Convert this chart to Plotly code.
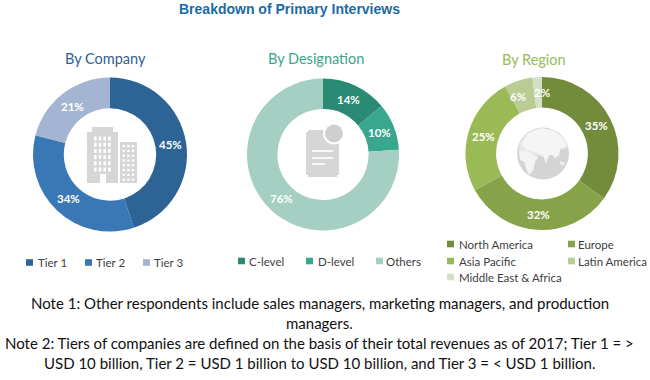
import math
import plotly.graph_objects as go

W, H = 650, 380

company_labels = ["Tier 1", "Tier 2", "Tier 3"]
company_values = [45, 34, 21]
company_colors = ["#2e6396", "#3a78b5", "#a3b5d3"]

designation_labels = ["C-level", "D-level", "Others"]
designation_values = [14, 10, 76]
designation_colors = ["#2a8a74", "#39a78e", "#a6cfc3"]

region_labels = ["North America", "Europe", "Asia Pacific", "Latin America", "Middle East & Africa"]
region_values = [35, 32, 25, 6, 2]
region_colors = ["#738c3b", "#86a34a", "#9aba56", "#b8cc94", "#d5dfc4"]

title_text = "Breakdown of Primary Interviews"
notes = [
    "Note 1: Other respondents include sales managers, marketing managers, and production",
    "managers.",
    "Note 2: Tiers of companies are defined on the basis of their total revenues as of 2017; Tier 1 = >",
    "USD 10 billion, Tier 2 = USD 1 billion to USD 10 billion, and Tier 3 = < USD 1 billion.",
]
note_y = [302.5, 323, 343, 363]

BODY = "Lato, 'Open Sans', sans-serif"
GREY = "#d6d6d6"


def fx(x):
    return x / W


def fy(y):
    return 1 - y / H


fig = go.Figure()
shapes = []
annotations = []


def text(t, x, y, size, color, family=BODY, anchor="center", weight="normal"):
    annotations.append(dict(text=t, x=fx(x), y=fy(y), xref="paper", yref="paper", showarrow=False,
                            xanchor=anchor, yanchor="middle",
                            font=dict(family=family, size=size, color=color, weight=weight)))


def rect(x0, y0, x1, y1, color=GREY):
    shapes.append(dict(type="rect", xref="paper", yref="paper", x0=fx(x0), x1=fx(x1),
                       y0=fy(y1), y1=fy(y0), fillcolor=color, line=dict(width=0), layer="above"))


def circle(cx, cy, r, color):
    shapes.append(dict(type="circle", xref="paper", yref="paper", x0=fx(cx - r), x1=fx(cx + r),
                       y0=fy(cy + r), y1=fy(cy - r), fillcolor=color, line=dict(width=0), layer="above"))


def poly(points, color):
    d = "M " + " L ".join(f"{fx(x):.4f},{fy(y):.4f}" for x, y in points) + " Z"
    shapes.append(dict(type="path", xref="paper", yref="paper", path=d, fillcolor=color,
                       line=dict(width=0), layer="above"))


def donut(labels, values, colors, cx, cy, r, nudges=None):
    fig.add_trace(go.Pie(
        labels=labels, values=values,
        domain=dict(x=[fx(cx - r), fx(cx + r)], y=[fy(cy + r), fy(cy - r)]),
        hole=0.6, sort=False, direction="clockwise", rotation=0,
        marker=dict(colors=colors, line=dict(width=0)),
        textinfo="none", showlegend=False,
    ))
    total = sum(values)
    cum = 0
    for i, v in enumerate(values):
        a = 2 * math.pi * (cum + v / 2) / total
        cum += v
        dx = (nudges or {}).get(i, (0, 0))
        text(f"{v}%", cx + 61 * math.sin(a) + dx[0], cy - 61 * math.cos(a) + dx[1], 11.5, "white", weight="bold")


def legend(labels, colors, swatch_x, text_x, rows):
    for lab, col, sx, tx, yy in zip(labels, colors, swatch_x, text_x, rows):
        rect(sx, yy - 3.3, sx + 7, yy + 3.3, col)
        text(lab, tx - 1.5, yy, 11.5, "#404040", anchor="left")


donut(company_labels, company_values, company_colors, 110, 154.5, 77)
donut(designation_labels, designation_values, designation_colors, 323, 154.5, 76)
donut(region_labels, region_values, region_colors, 542, 153.5, 76.5, nudges={3: (-5, 1.5), 4: (4, 0)})

legend(company_labels, company_colors, [26, 85, 143], [37, 95, 153], [262.5] * 3)
legend(designation_labels, designation_colors, [238, 306, 376], [248, 317, 385], [261] * 3)
legend(region_labels, region_colors, [447, 568, 447, 568, 447], [458, 577, 458, 577, 458],
       [244, 244, 261, 261, 277])

# building icon
rect(87, 132, 118, 183)
rect(92, 127, 113, 132)
rect(120, 142, 137, 183)
for row in range(6):
    for col in range(4):
        rect(94 + col * 4.7, 136.5 + row * 6.2, 96.6 + col * 4.7, 140.5 + row * 6.2, "white")
for row in range(8):
    for col in range(3):
        rect(122.5 + col * 4.6, 145 + row * 4.8, 125 + col * 4.6, 147.2 + row * 4.8, "white")
rect(100, 174, 106, 183, "white")

# document icon
rect(306, 132, 339, 175)
rect(308, 130, 337, 177)
for yy, x1 in ((151, 333), (158, 333), (164, 325)):
    rect(312, yy - 0.8, x1, yy + 0.8, "white")
circle(334, 133.5, 10.8, "white")
circle(334, 133.5, 9, "#cfcfcf")

# globe icon
circle(543, 153.5, 26, "#d4d4d4")


def gz(points):
    return [(510 + x / 3, 120 + y / 3) for x, y in points]


poly(gz([(26, 105), (28, 72), (45, 46), (70, 30), (100, 25), (135, 32), (160, 52), (174, 82), (150, 90),
         (100, 110), (60, 100)]), "#e9e9e9")
poly(gz([(35, 75), (55, 40), (90, 25), (130, 30), (165, 60), (170, 80), (150, 85), (148, 105), (135, 115),
         (128, 105), (118, 105), (108, 130), (98, 105), (85, 100), (70, 95), (50, 90)]), "#f5f5f5")
poly(gz([(28, 95), (45, 92), (65, 100), (85, 112), (75, 125), (70, 150), (58, 165), (50, 150), (42, 125), (30, 120)]), "#f3f3f3")
poly(gz([(148, 122), (165, 128), (160, 138), (150, 133)]), "#ececec")

text(title_text, 289.5, 9, 14, "#1c6aa6", family="Liberation Sans", weight="bold")
text("By Company", 106, 58, 14.5, "#2f5f8e")
text("By Designation", 316, 58, 14.5, "#3aa58d")
text("By Region", 534, 59, 14.5, "#9aba56")
for t, yy in zip(notes, note_y):
    text(t, 319.5, yy, 15, "#111111")

fig.update_layout(
    width=W, height=H, margin=dict(l=0, r=0, t=0, b=0), autosize=False,
    paper_bgcolor="white", plot_bgcolor="white", shapes=shapes, annotations=annotations,
    font=dict(family=BODY, color="#404040", size=11), showlegend=False,
)

fig.write_html("out.html", config={"displayModeBar": False},
               post_script="document.body.style.margin='0';document.body.style.overflow='hidden';")
